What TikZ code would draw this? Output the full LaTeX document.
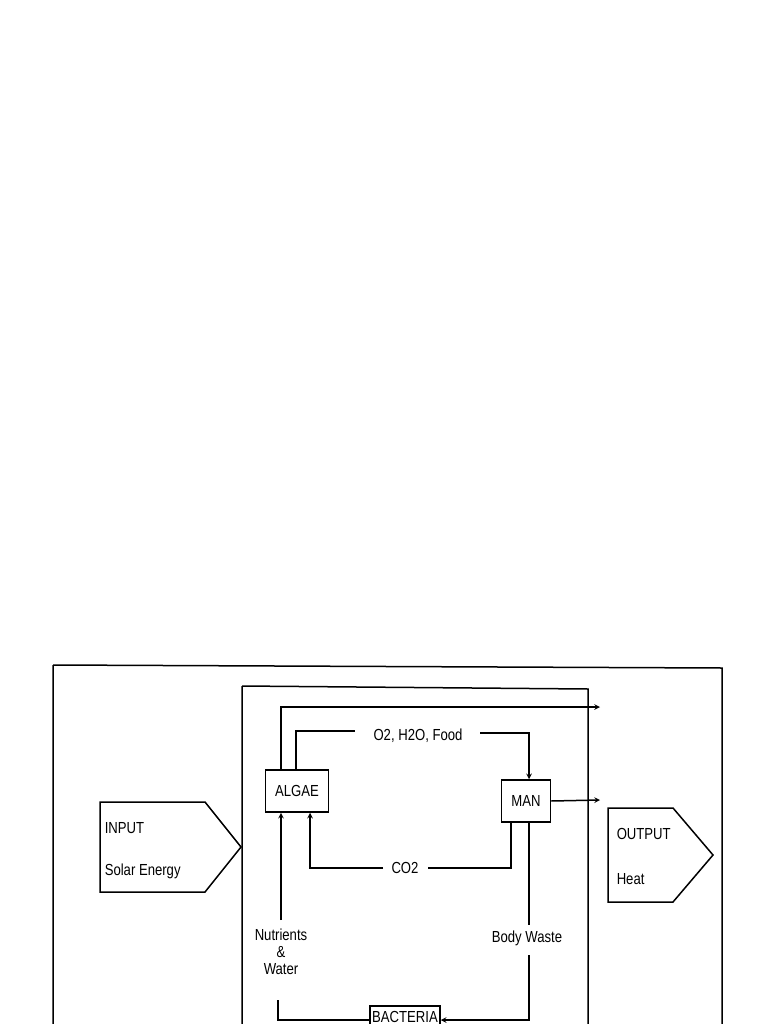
\documentclass[tikz,border=0pt]{standalone}
\usepackage{fontspec}
\setmainfont[FakeStretch=0.82]{Liberation Sans}
\begin{document}
\begin{tikzpicture}[x=1pt,y=-1pt,line width=1.5pt,
  box/.style={draw,minimum width=#1,minimum height=42pt,inner sep=0pt,font=\fontsize{16}{18}\selectfont},
  lbl/.style={font=\fontsize{16}{18}\selectfont,inner sep=1pt,align=center},
  arr/.style={-stealth}]
\useasboundingbox (0,0) rectangle (768,1024);
\begin{scope}
\clip (0,0) rectangle (768,1024);
\draw (53,665) -- (722,668) -- (722,1040) (53,665) -- (53,1040);
\draw (242,686) -- (588,689) -- (588,1040) (242,686) -- (242,1040);
\node[box=63pt] (algae) at (297,791) {ALGAE};
\node[box=49pt] (man) at (526,801) {MAN};
\node[draw,minimum width=70pt,minimum height=40pt,anchor=north,inner sep=2pt] (bact) at (405,1005) {};
\node[lbl,anchor=north] (bt) at (405,1010) {BACTERIA};
\coordinate (topend) at (600,707);
\draw[arr] (algae.north -| 281,0) -- (281,707) -- (topend);
\coordinate (manout) at (600,800);
\draw[arr] (man.east) -- (manout);
\node[lbl] (food) at (418,736) {O2, H2O, Food};
\draw (algae.north -| 296,0) -- (296,731) -- (355,731);
\draw[arr] (480,733) -- (529,733) -- (man.north -| 529,0);
\node[lbl] (co2) at (405,868) {CO2};
\draw (man.south -| 511,0) -- (511,868) -- (428,868);
\draw[arr] (383,868) -- (310,868) -- (algae.south -| 310,0);
\node[lbl] (nut) at (281,952) {Nutrients\\[-1pt]\&\\[-1pt]Water};
\draw[arr] (281,920) -- (algae.south -| 281,0);
\draw (278,1000) -- (278,1020) -- (bact.west |- 0,1020);
\node[lbl] (bw) at (527,938) {Body Waste};
\draw (man.south -| 529,0) -- (529,925);
\draw[arr] (529,955) -- (529,1020) -- (bact.east |- 0,1020);
\draw (100,802) -- (205,802) -- (241,847) -- (205,892) -- (100,892) -- cycle;
\node[lbl,anchor=west] (in) at (103,828) {INPUT};
\node[lbl,anchor=west] (sol) at (103,871) {Solar Energy};
\draw (608,808) -- (673,808) -- (713,855) -- (673,902) -- (608,902) -- cycle;
\node[lbl,anchor=west] (out) at (615,834) {OUTPUT};
\node[lbl,anchor=west] (heat) at (615,879) {Heat};
\end{scope}
\end{tikzpicture}
\end{document}
